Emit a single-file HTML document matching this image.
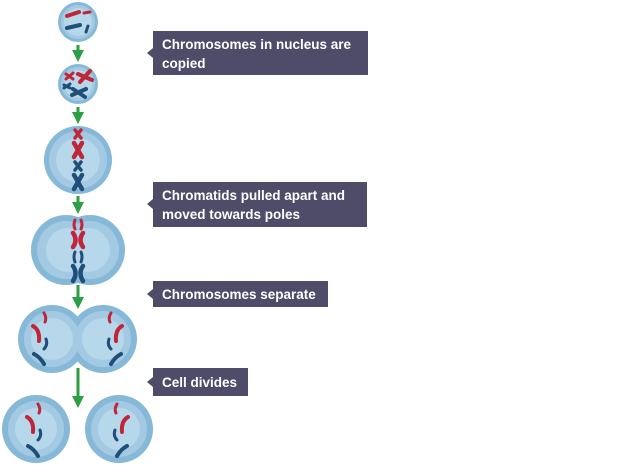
<!DOCTYPE html>
<html><head><style>
html,body{margin:0;padding:0;background:#fff;}
svg{display:block;}
text{font-family:"Liberation Sans",Arial,sans-serif;font-weight:bold;font-size:13.5px;fill:#fff;}
</style></head><body>
<svg width="624" height="475" viewBox="0 0 624 475" xmlns="http://www.w3.org/2000/svg">
<defs>
<marker id="ah" markerWidth="4" markerHeight="4" refX="2" refY="2" orient="auto" markerUnits="strokeWidth"><path d="M0,0 L4,2 L0,4 z" fill="#2e9e45"/></marker>
</defs>
<g fill="none" stroke="#2e9e45" stroke-width="3">
<line x1="78" y1="45" x2="78" y2="56" marker-end="url(#ah)"/>
<line x1="78" y1="107" x2="78" y2="118" marker-end="url(#ah)"/>
<line x1="78" y1="196" x2="78" y2="208" marker-end="url(#ah)"/>
<line x1="78" y1="285" x2="78" y2="303" marker-end="url(#ah)"/>
<line x1="78" y1="368" x2="78" y2="402" marker-end="url(#ah)"/>
</g>
<!-- cell1 -->
<circle cx="78" cy="22" r="20" fill="#86b8d8"/><circle cx="78" cy="22" r="17" fill="#a4cae3"/><circle cx="78" cy="22" r="14" fill="#b7d7ea"/>
<g stroke-linecap="round" stroke-width="4" fill="none">
<path d="M67,16 L79,12" stroke="#c0263a"/><path d="M84,13 L90,12" stroke="#c0263a" stroke-width="3"/>
<path d="M67,28 L80,25" stroke="#1f4e79"/><path d="M88,26 L86,32" stroke="#1f4e79" stroke-width="3"/>
</g>
<!-- cell2 -->
<circle cx="78" cy="84" r="20" fill="#86b8d8"/><circle cx="78" cy="84" r="17" fill="#a4cae3"/><circle cx="78" cy="84" r="14" fill="#b7d7ea"/>
<g stroke-linecap="round" stroke-width="4" fill="none">
<path d="M80,82 L90,71 M78,74 L92,80" stroke="#c0263a"/><path d="M66,74 L73,79 M66,79 L73,73" stroke="#c0263a" stroke-width="3"/>
<path d="M72,95 L86,89 M73,89 L85,97" stroke="#1f4e79"/><path d="M64,85 L70,88 M64,88 L70,84" stroke="#1f4e79" stroke-width="3"/>
</g>
<!-- cell3 -->
<circle cx="78" cy="160" r="34" fill="#86b8d8"/><circle cx="78" cy="160" r="29" fill="#a4cae3"/><circle cx="78" cy="160" r="22" fill="#b7d7ea"/>
<g stroke-linecap="round" stroke-width="3.5" fill="none">
<path d="M75,130 L81,138 M81,130 L75,138" stroke="#c0263a"/>
<path d="M74,143 L82,157 M82,143 L74,157" stroke="#c0263a" stroke-width="4.5"/>
<path d="M75,162 L81,170 M81,162 L75,170" stroke="#1f4e79"/>
<path d="M74,175 L82,189 M82,175 L74,189" stroke="#1f4e79" stroke-width="4.5"/>
</g>
<!-- cell4 -->
<g fill="#86b8d8"><circle cx="66" cy="250" r="35"/><circle cx="90" cy="250" r="35"/></g>
<g fill="#a4cae3"><circle cx="66" cy="250" r="29"/><circle cx="90" cy="250" r="29"/></g>
<g fill="#b7d7ea"><circle cx="68" cy="250" r="22"/><circle cx="88" cy="250" r="22"/></g>
<g stroke-linecap="round" stroke-width="3" fill="none">
<path d="M75,220 Q73,225 75,229 M81,220 Q83,225 81,229" stroke="#c0263a"/>
<path d="M73,233 Q78,240 73,247 M83,233 Q78,240 83,247" stroke="#c0263a" stroke-width="4.5"/>
<path d="M75,252 Q73,257 75,262 M81,252 Q83,257 81,262" stroke="#1f4e79"/>
<path d="M73,266 Q78,273 73,281 M83,266 Q78,273 83,281" stroke="#1f4e79" stroke-width="4.5"/>
</g>
<!-- cell5 -->
<g fill="#86b8d8"><circle cx="52" cy="339" r="34"/><circle cx="103" cy="339" r="34"/></g>
<g fill="#a4cae3"><circle cx="52" cy="339" r="28"/><circle cx="103" cy="339" r="28"/></g>
<g fill="#b7d7ea"><circle cx="52" cy="339" r="21"/><circle cx="103" cy="339" r="21"/></g>
<g stroke-linecap="round" stroke-width="4" fill="none">
<path d="M44,313 Q47,318 45,322" stroke="#c0263a" stroke-width="3"/>
<path d="M33,326 Q40,330 39,341" stroke="#c0263a"/>
<path d="M46,339 Q48,345 44,349" stroke="#1f4e79" stroke-width="3"/>
<path d="M34,354 Q40,357 44,364" stroke="#1f4e79"/>
<path d="M111,313 Q108,318 110,322" stroke="#c0263a" stroke-width="3"/>
<path d="M122,326 Q115,330 116,341" stroke="#c0263a"/>
<path d="M109,339 Q107,345 111,349" stroke="#1f4e79" stroke-width="3"/>
<path d="M121,354 Q115,357 111,364" stroke="#1f4e79"/>
</g>
<!-- cell6 -->
<g fill="#86b8d8"><circle cx="36" cy="429" r="34"/><circle cx="119" cy="429" r="34"/></g>
<g fill="#a4cae3"><circle cx="36" cy="429" r="28"/><circle cx="119" cy="429" r="28"/></g>
<g fill="#b7d7ea"><circle cx="36" cy="429" r="21"/><circle cx="119" cy="429" r="21"/></g>
<g stroke-linecap="round" stroke-width="4" fill="none">
<path d="M38,404 Q41,409 39,413" stroke="#c0263a" stroke-width="3"/>
<path d="M27,417 Q34,421 33,432" stroke="#c0263a"/>
<path d="M40,430 Q42,436 38,440" stroke="#1f4e79" stroke-width="3"/>
<path d="M28,446 Q34,449 38,456" stroke="#1f4e79"/>
<path d="M117,404 Q114,409 116,413" stroke="#c0263a" stroke-width="3"/>
<path d="M128,417 Q121,421 122,432" stroke="#c0263a"/>
<path d="M115,430 Q113,436 117,440" stroke="#1f4e79" stroke-width="3"/>
<path d="M127,446 Q121,449 117,456" stroke="#1f4e79"/>
</g>
<!-- labels -->
<g fill="#4f4c6a">
<rect x="153" y="31" width="215" height="44"/><path d="M153,48 L147,53 L153,58 z"/>
<rect x="153" y="182" width="214" height="45"/><path d="M153,199 L147,204 L153,209 z"/>
<rect x="153" y="281" width="175" height="26"/><path d="M153,289 L147,294 L153,299 z"/>
<rect x="153" y="368" width="95" height="28"/><path d="M153,377 L147,382 L153,387 z"/>
</g>
<text x="162" y="49">Chromosomes in nucleus are</text>
<text x="162" y="68">copied</text>
<text x="162" y="200">Chromatids pulled apart and</text>
<text x="162" y="219">moved towards poles</text>
<text x="162" y="299">Chromosomes separate</text>
<text x="162" y="387">Cell divides</text>
</svg>
</body></html>
